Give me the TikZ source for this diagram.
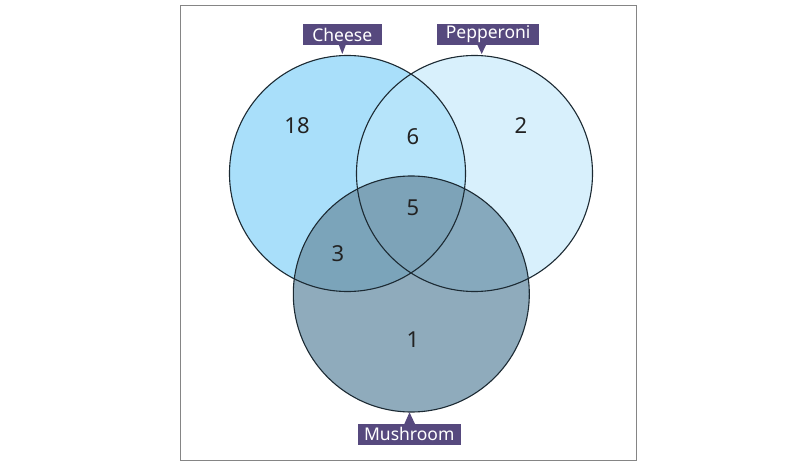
\documentclass[tikz,border=0pt]{standalone}
\usepackage{fontspec}
\setmainfont{Noto Sans}
\definecolor{conly}{HTML}{A9DFFA}
\definecolor{ponly}{HTML}{D8F0FC}
\definecolor{cp}{HTML}{B6E4FA}
\definecolor{monly}{HTML}{8FABBC}
\definecolor{mc}{HTML}{7BA4BA}
\definecolor{mp}{HTML}{86A9BD}
\definecolor{cpm}{HTML}{7DA3B8}
\definecolor{tagc}{HTML}{56497E}
\definecolor{ringc}{HTML}{1C2A33}
\definecolor{numc}{HTML}{222222}
\definecolor{framec}{HTML}{858585}
\begin{document}
\begin{tikzpicture}[x=1pt,y=-1pt,
  ring/.style={circle,draw=ringc,line width=1.1pt,minimum size=236pt,inner sep=0pt},
  num/.style={text=numc,font=\fontsize{22}{24}\selectfont,inner sep=0pt},
  tag/.style={fill=tagc,text=white,font=\fontsize{17.5}{19}\selectfont,inner sep=0pt,anchor=north west}]
\useasboundingbox (0,0) rectangle (800,465);
\fill[white] (0,0) rectangle (800,465);
\def\C{(347.5,173.5) circle[radius=118pt]}
\def\P{(474.5,173.5) circle[radius=118pt]}
\def\M{(411.3,294) circle[radius=118pt]}
% region fills
\fill[conly] \C;
\fill[ponly] \P;
\begin{scope}\clip \C; \fill[cp] \P; \end{scope}
\fill[monly] \M;
\begin{scope}\clip \M; \fill[mc] \C; \end{scope}
\begin{scope}\clip \M; \fill[mp] \P; \end{scope}
\begin{scope}\clip \M; \clip \C; \fill[cpm] \P; \end{scope}
% outlines
\node[ring] (cheese) at (347.5,173.5) {};
\node[ring] (pepperoni) at (474.5,173.5) {};
\node[ring] (mushroom) at (411.3,294) {};
% frame
\node[draw=framec,line width=1.4pt,minimum width=455.5pt,minimum height=455pt,inner sep=0pt,anchor=north west] (frame) at (180,5) {};
% numbers
\node[num] (n18) at (297,126) {18};
\node[num] (n6) at (413,137) {6};
\node[num] (n2) at (521,126) {2};
\node[num] (n5) at (413,208) {5};
\node[num] (n3) at (338,254) {3};
\node[num] (n1) at (413,340) {1};
% tags
\node[tag,minimum width=79.5pt,minimum height=20.5pt] (tc) at (302.3,24) {Cheese};
\fill[tagc] (338.3,43.5) -- (346.3,43.5) -- (342.3,54) -- cycle;
\node[tag,minimum width=102.5pt,minimum height=20.5pt] (tp) at (436.7,24) {Pepperoni};
\fill[tagc] (476.7,43.5) -- (486.7,43.5) -- (481.7,54) -- cycle;
\node[tag,minimum width=103.5pt,minimum height=21pt] (tm) at (357.3,423.3) {Mushroom};
\fill[tagc] (404.3,424) -- (415,424) -- (409.5,412.3) -- cycle;
\end{tikzpicture}
\end{document}
